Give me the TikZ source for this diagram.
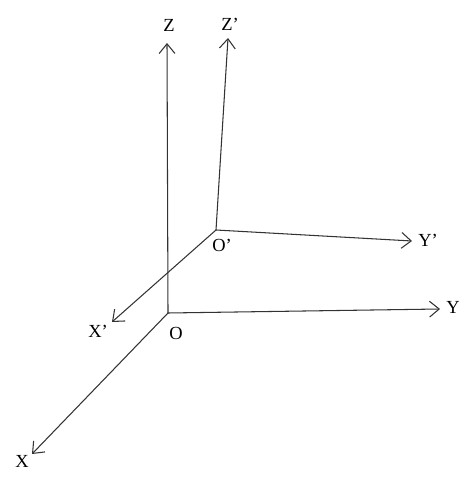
\documentclass[tikz,border=0pt]{standalone}
\usepackage{fontspec}
\setmainfont{Liberation Serif}
\usetikzlibrary{arrows.meta}
\begin{document}
\begin{tikzpicture}[x=0.02cm,y=-0.02cm,font=\fontsize{10.5}{12}\selectfont,
	line join=round,line cap=round,>={Straight Barb[length=5.5pt,width=9pt]},
	axis/.style={draw=black!80,line width=0.6pt,->}]
				\useasboundingbox (0,0) rectangle (474,482);
				% Hai gốc toạ độ và các đầu mũi tên
				\coordinate (O) at (168,313);
				\coordinate (O1) at (216,230);
				\coordinate (tX) at (32,454);
				\coordinate (tY) at (440,309);
				\coordinate (tZ) at (167,43);
				\coordinate (tX1) at (112,322);
				\coordinate (tY1) at (412,241);
				\coordinate (tZ1) at (228,38);
				% Các trục
				\draw[axis] (O)--(tX);
				\draw[axis] (O)--(tY);
				\draw[axis] (O)--(tZ);
				\draw[axis] (O1)--(tX1);
				\draw[axis] (O1)--(tY1);
				\draw[axis] (O1)--(tZ1);
				% Chú thích
				\node (lO) at (176,333) {O};
				\node (lO1) at (222,245) {O’};
				\node (lX) at (22,461) {X};
				\node (lY) at (453,307) {Y};
				\node (lZ) at (169,25) {Z};
				\node (lX1) at (98,331) {X’};
				\node (lY1) at (428,240) {Y’};
				\node (lZ1) at (230,24) {Z’};
			\end{tikzpicture}
\end{document}
